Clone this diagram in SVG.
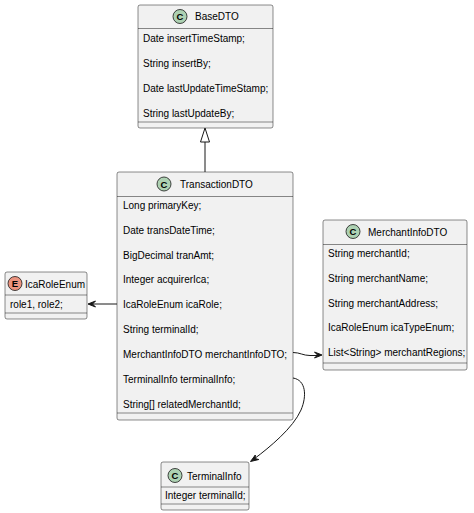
<svg xmlns="http://www.w3.org/2000/svg" width="474" height="513" viewBox="0 0 474 513">
<style>
.box{fill:#F1F1F1;stroke:#181818;stroke-width:0.5}
.sep{stroke:#181818;stroke-width:0.5}
.t{font-family:"Liberation Sans",Arial,sans-serif;font-size:10px;fill:#000}
.ci{stroke:#181818;stroke-width:0.8}
.cc{fill:#ADD1B2}
.ce{fill:#EB937F}
.L{font-family:"Liberation Sans",Arial,sans-serif;font-size:9.5px;font-weight:bold;fill:#000;text-anchor:middle}
.e{fill:none;stroke:#181818;stroke-width:1}
.ah{fill:#181818;stroke:#181818;stroke-width:1}
</style>
<rect width="474" height="513" fill="#FFFFFF"/>
<g id="BaseDTO">
<rect class="box" x="138" y="5" width="135" height="123" rx="2"/>
<circle class="ci cc" cx="180" cy="16.5" r="7"/>
<text class="L" x="180" y="20">C</text>
<text class="t" x="195" y="20">BaseDTO</text>
<line class="sep" x1="138" y1="28.5" x2="273" y2="28.5"/>
<text class="t" x="143" y="41.5">Date insertTimeStamp;</text>
<text class="t" x="143" y="66.5">String insertBy;</text>
<text class="t" x="143" y="91.5">Date lastUpdateTimeStamp;</text>
<text class="t" x="143" y="116.5">String lastUpdateBy;</text>
<line class="sep" x1="138" y1="122" x2="273" y2="122"/>
</g>
<g id="TransactionDTO">
<rect class="box" x="117" y="172" width="176" height="248" rx="2"/>
<circle class="ci cc" cx="164" cy="184" r="7"/>
<text class="L" x="164" y="187.5">C</text>
<text class="t" x="180" y="188">TransactionDTO</text>
<line class="sep" x1="117" y1="196.5" x2="293" y2="196.5"/>
<text class="t" x="123" y="208.5">Long primaryKey;</text>
<text class="t" x="123" y="233.5">Date transDateTime;</text>
<text class="t" x="123" y="258.5">BigDecimal tranAmt;</text>
<text class="t" x="123" y="283">Integer acquirerIca;</text>
<text class="t" x="123" y="308">IcaRoleEnum icaRole;</text>
<text class="t" x="123" y="333">String terminalId;</text>
<text class="t" x="123" y="358">MerchantInfoDTO merchantInfoDTO;</text>
<text class="t" x="123" y="382.5">TerminalInfo terminalInfo;</text>
<text class="t" x="123" y="407.5">String[] relatedMerchantId;</text>
<line class="sep" x1="117" y1="413" x2="293" y2="413"/>
</g>
<g id="IcaRoleEnum">
<rect class="box" x="5" y="272" width="82" height="47" rx="2"/>
<circle class="ci ce" cx="15" cy="283.5" r="7"/>
<text class="L" x="15" y="287">E</text>
<text class="t" x="25" y="287.5">IcaRoleEnum</text>
<line class="sep" x1="5" y1="295" x2="87" y2="295"/>
<text class="t" x="10" y="307.5">role1, role2;</text>
<line class="sep" x1="5" y1="313" x2="87" y2="313"/>
</g>
<g id="MerchantInfoDTO">
<rect class="box" x="323" y="220" width="144" height="150" rx="2"/>
<circle class="ci cc" cx="353" cy="231.5" r="7"/>
<text class="L" x="353" y="235">C</text>
<text class="t" x="368" y="235.5">MerchantInfoDTO</text>
<line class="sep" x1="323" y1="244.5" x2="467" y2="244.5"/>
<text class="t" x="328" y="257">String merchantId;</text>
<text class="t" x="328" y="282">String merchantName;</text>
<text class="t" x="328" y="306.5">String merchantAddress;</text>
<text class="t" x="328" y="331">IcaRoleEnum icaTypeEnum;</text>
<text class="t" x="328" y="356">List&lt;String&gt; merchantRegions;</text>
<line class="sep" x1="323" y1="363" x2="467" y2="363"/>
</g>
<g id="TerminalInfo">
<rect class="box" x="161" y="462" width="88" height="48" rx="2"/>
<circle class="ci cc" cx="175" cy="475.5" r="7"/>
<text class="L" x="175" y="479">C</text>
<text class="t" x="187" y="479.5">TerminalInfo</text>
<line class="sep" x1="161" y1="487" x2="249" y2="487"/>
<text class="t" x="165" y="499">Integer terminalId;</text>
<line class="sep" x1="161" y1="504" x2="249" y2="504"/>
</g>
<g id="connectors">
<line class="e" x1="205" y1="172" x2="205" y2="142"/>
<polygon points="205,128 200.5,142 209.5,142" fill="none" stroke="#181818" stroke-width="1"/>
<line class="e" x1="117" y1="304" x2="90" y2="304"/>
<polygon class="ah" points="88,304 95.5,301 92.5,304 95.5,307"/>
<path class="e" d="M293,352.5 C300,352.5 303,355.5 310,355.5 L318,355.5"/>
<polygon class="ah" points="322,355 314.5,352 317.5,355 314.5,358"/>
<path class="e" d="M293,378 C306,380 307,396 301,410 C293,428 270,447 254,459"/>
<polygon class="ah" points="250.5,461.5 255.3,455 255.2,458.6 258.8,459.5"/>
</g>
</svg>
